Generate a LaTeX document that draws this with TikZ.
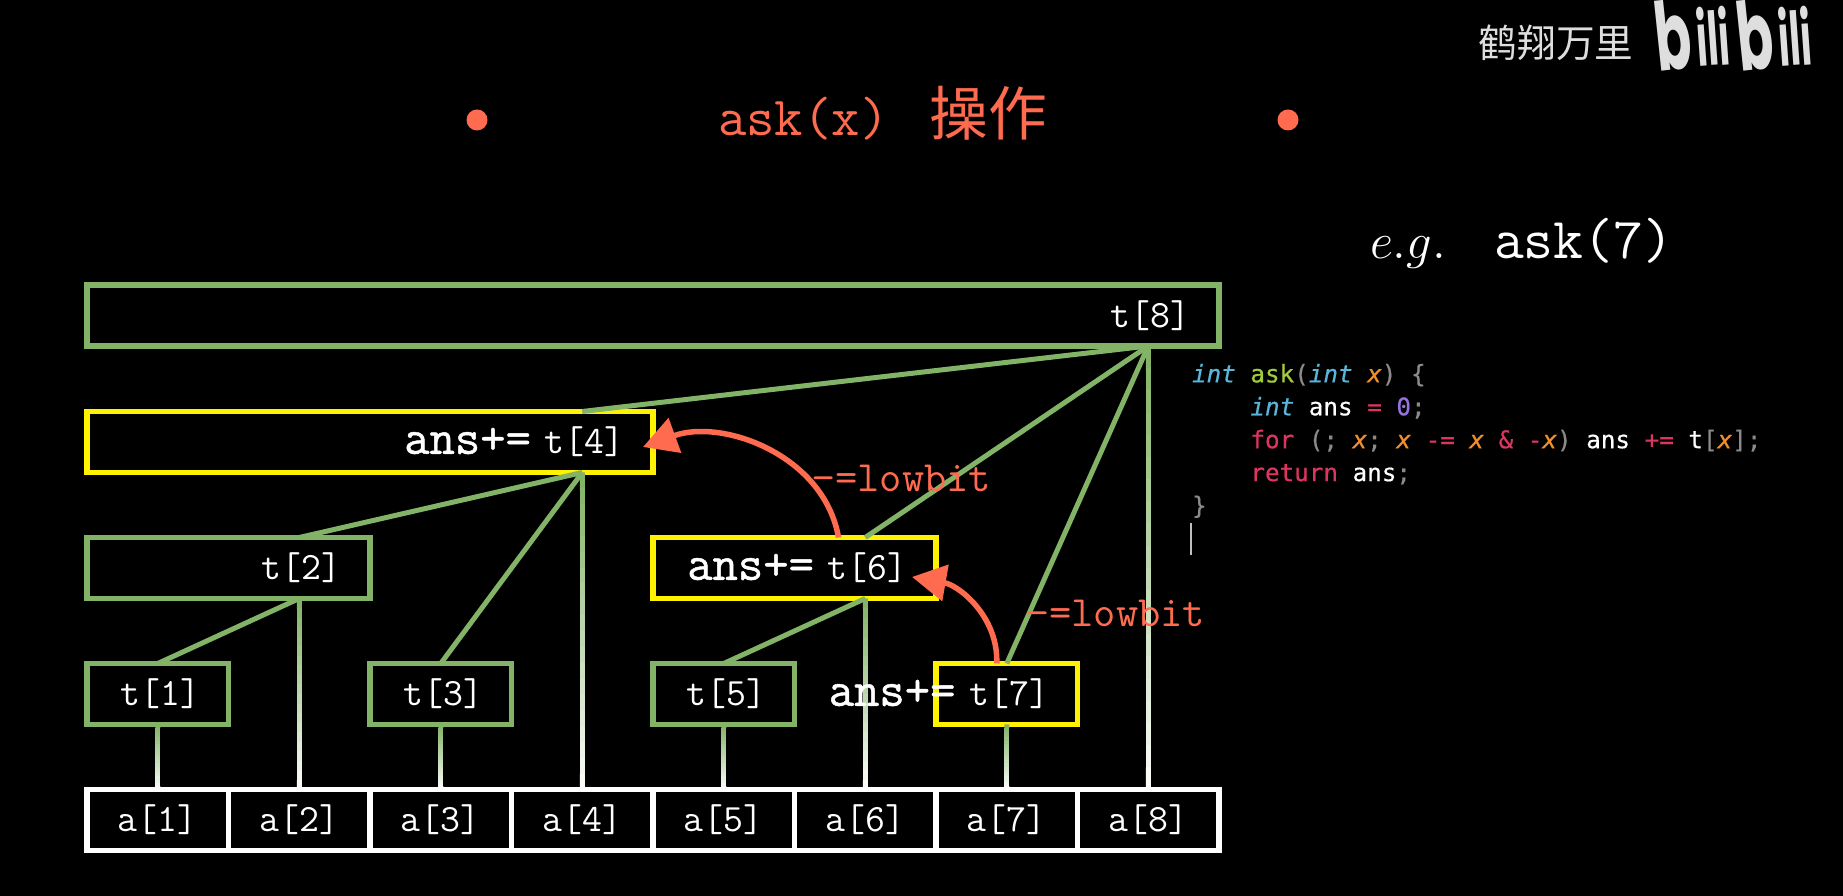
\documentclass[tikz,border=0pt]{standalone}
\usepackage{fontspec}
\usepackage{amsmath}
\usetikzlibrary{arrows.meta, positioning, calc}
\newfontfamily\codefont{DejaVu Sans Mono}[FakeBold=0.5, ItalicFeatures={FakeBold=0.5}]
\newfontfamily\cjkfont{Noto Sans CJK SC}
\newfontfamily\logofont{Poppins}
\newfontfamily\ansfont{Latin Modern Mono}[FakeBold=1]
\definecolor{edgegreen}{HTML}{82B366}
\definecolor{coral}{HTML}{FF6B4F}
\definecolor{synblue}{HTML}{58B6DA}
\definecolor{syngreen}{HTML}{A2CC3C}
\definecolor{synorange}{HTML}{EE8F2B}
\definecolor{synred}{HTML}{DC3660}
\definecolor{synpurple}{HTML}{9472E0}
\definecolor{syngray}{HTML}{8A8A8A}
\newcommand{\kint}{\textcolor{synblue}{\itshape int}}
\newcommand{\vx}{\textcolor{synorange}{\itshape x}}
\newcommand{\kw}[1]{\textcolor{synred}{#1}}
\newcommand{\gy}[1]{\textcolor{syngray}{#1}}
% connector that goes from green to white
\newcommand{\fadeedge}[2]{%
  \foreach \k [evaluate=\k as \p using {100-\k*5}, evaluate=\k as \q using {min((\k+1.15)/20,1)}] in {0,...,19}
    \draw[edge, edgegreen!\p!white] ($(#1)!\k/20!(#2)$) -- ($(#1)!\q!(#2)$);
}

\begin{document}
\begin{tikzpicture}[
    node distance=0cm,
    every node/.style={outer sep=0pt},
    tbox/.style={rectangle, draw=edgegreen, line width=0.055cm, minimum height=0.61cm, inner sep=0pt},
    askbox/.style={tbox, draw=yellow},
    abox/.style={tbox, draw=white, minimum width=1.415cm},
    edge/.style={edgegreen, line width=0.05cm},
    cell/.style={text=white, inner sep=0pt, font=\fontsize{11}{13}\selectfont\ttfamily},
    tcell/.style={cell, xshift=0.025cm},
    anslabel/.style={text=white, inner sep=0pt, font=\fontsize{14}{16}\selectfont\ansfont},
    lowbit/.style={text=coral, inner sep=0pt, font=\fontsize{12.3}{14}\selectfont\ttfamily},
    jump/.style={coral, line width=0.055cm, -{Triangle[length=0.34cm, width=0.36cm]}},
    bullet/.style={circle, fill=coral, minimum size=0.21cm, inner sep=0pt},
    logotall/.style={text=white!87!black, inner sep=0pt, font=\fontsize{27}{30}\selectfont\logofont\bfseries, rotate=6, xscale=0.56, transform shape},
    logoshort/.style={text=white!87!black, inner sep=0pt, font=\fontsize{21}{24}\selectfont\logofont\bfseries, rotate=4, xscale=0.5, transform shape}
]
\fill[black] (0, 0) rectangle (18.43, 8.96);
\useasboundingbox (0, 0) rectangle (18.43, 8.96);

% ============ TITLE ============
\node[bullet] (bulletl) at (4.77, 7.76) {};
\node[bullet] (bulletr) at (12.88, 7.76) {};
\node[text=coral, inner sep=0pt, anchor=base west, font=\fontsize{15.7}{18}\selectfont\ttfamily] (title) at (7.18, 7.60) {ask(x)};
\node[text=coral, inner sep=0pt, base right=0.41cm of title, font=\fontsize{16.7}{18}\selectfont\cjkfont] (titlecn) {操作};

% ============ WATERMARK ============
\node[text=white!87!black, inner sep=0pt, font=\fontsize{11}{13}\selectfont\cjkfont] (uploader) at (15.56, 8.53) {鹤翔万里};
\node[logotall] (logob1) at (16.73, 8.61) {b};
\node[logoshort] (logoi1) at (17.13, 8.60) {ili};
\node[logotall] (logob2) at (17.55, 8.61) {b};
\node[logoshort] (logoi2) at (17.95, 8.60) {ili};

% ============ ARRAY ROW ============
\node[abox] (a1) at (1.5775, 0.76) {};
\node[abox, right=of a1] (a2) {};
\node[abox, right=of a2] (a3) {};
\node[abox, right=of a3] (a4) {};
\node[abox, right=of a4] (a5) {};
\node[abox, right=of a5] (a6) {};
\node[abox, right=of a6] (a7) {};
\node[abox, right=of a7] (a8) {};

% ============ TREE BOXES ============
\node[tbox, minimum width=11.32cm] (t8) at (6.53, 5.805) {};
\node[askbox, minimum width=5.66cm] (t4) at (3.70, 4.54) {};
\node[tbox, minimum width=2.83cm] (t2) at (2.285, 3.28) {};
\node[askbox, minimum width=2.83cm] (t6) at (7.945, 3.28) {};
\node[tbox, minimum width=1.415cm] (t1) at (1.5775, 2.02) {};
\node[tbox, minimum width=1.415cm] (t3) at (4.4075, 2.02) {};
\node[tbox, minimum width=1.415cm] (t5) at (7.2375, 2.02) {};
\node[askbox, minimum width=1.415cm] (t7) at (10.0675, 2.02) {};

% Connectors between levels
\draw[edge] (t8.south -| a8) -- (t4.north -| a4);
\draw[edge] (t8.south -| a8) -- (t6.north -| a6);
\draw[edge] (t8.south -| a8) -- (t7.north -| a7);
\draw[edge] (t4.south -| a4) -- (t2.north -| a2);
\draw[edge] (t4.south -| a4) -- (t3.north -| a3);
\draw[edge] (t2.south -| a2) -- (t1.north -| a1);
\draw[edge] (t6.south -| a6) -- (t5.north -| a5);

% Connectors down to the array
\fadeedge{t8.south -| a8}{a8.north}
\fadeedge{t4.south -| a4}{a4.north}
\fadeedge{t2.south -| a2}{a2.north}
\fadeedge{t6.south -| a6}{a6.north}
\fadeedge{t1.south -| a1}{a1.north}
\fadeedge{t3.south -| a3}{a3.north}
\fadeedge{t5.south -| a5}{a5.north}
\fadeedge{t7.south -| a7}{a7.north}

% ============ CELL TEXT ============
\node[cell] (a1text) at (a1) {a[1]};
\node[cell] (a2text) at (a2) {a[2]};
\node[cell] (a3text) at (a3) {a[3]};
\node[cell] (a4text) at (a4) {a[4]};
\node[cell] (a5text) at (a5) {a[5]};
\node[cell] (a6text) at (a6) {a[6]};
\node[cell] (a7text) at (a7) {a[7]};
\node[cell] (a8text) at (a8) {a[8]};
\node[tcell] (t8text) at (t8 -| a8) {t[8]};
\node[tcell] (t4text) at (t4 -| a4) {t[4]};
\node[tcell] (t2text) at (t2 -| a2) {t[2]};
\node[tcell] (t6text) at (t6 -| a6) {t[6]};
\node[tcell] (t1text) at (t1 -| a1) {t[1]};
\node[tcell] (t3text) at (t3 -| a3) {t[3]};
\node[tcell] (t5text) at (t5 -| a5) {t[5]};
\node[tcell] (t7text) at (t7 -| a7) {t[7]};
\node[anslabel, base left=0.14cm of t4text] (ans4) {ans+=};
\node[anslabel, base left=0.14cm of t6text] (ans6) {ans+=};
\node[anslabel, base left=0.14cm of t7text] (ans7) {ans+=};

% ============ LOWBIT JUMPS ============
\draw[jump] ($(t6.north)+(0.44, 0)$) to[out=100, in=20] ($(t4.east)+(-0.1, -0.05)$);
\draw[jump] ($(t7.north)+(-0.1, 0)$) to[out=88, in=-10] ($(t6.east)+(-0.24, -0.09)$);
\node[lowbit] (low1) at (9.02, 4.18) {−=lowbit};
\node[lowbit] (low2) at (11.16, 2.83) {−=lowbit};

% ============ EXAMPLE AND CODE ============
\node[text=white, inner sep=0pt, anchor=base west, font=\fontsize{14.4}{18}\selectfont] (eg) at (13.70, 6.37) {$e.g.$};
\node[text=white, inner sep=0pt, base right=0.48cm of eg, font=\fontsize{16.5}{18}\selectfont\ttfamily] (ask7) {ask(7)};
\node[text=white, inner sep=0pt, anchor=north west, align=left, font=\fontsize{6.9}{9.36}\selectfont\codefont] (code) at (11.92, 5.32) {%
\kint{} \textcolor{syngreen}{ask}\gy{(}\kint{} \vx\gy{)} \gy{\{}\\
\phantom{xxxx}\kint{} ans \kw{=} \textcolor{synpurple}{0}\gy{;}\\
\phantom{xxxx}\kw{for} \gy{(;} \vx\gy{;} \vx{} \kw{-=} \vx{} \kw{\&} \kw{-}\vx\gy{)} ans \kw{+=} t\gy{[}\vx\gy{]}\gy{;}\\
\phantom{xxxx}\kw{return} ans\gy{;}\\
\gy{\}}};
\coordinate (cursortop) at (11.91, 3.73);
\coordinate (cursorend) at (11.91, 3.41);
\draw[white!75!black, line width=0.02cm] (cursortop) -- (cursorend);

\end{tikzpicture}
\end{document}
